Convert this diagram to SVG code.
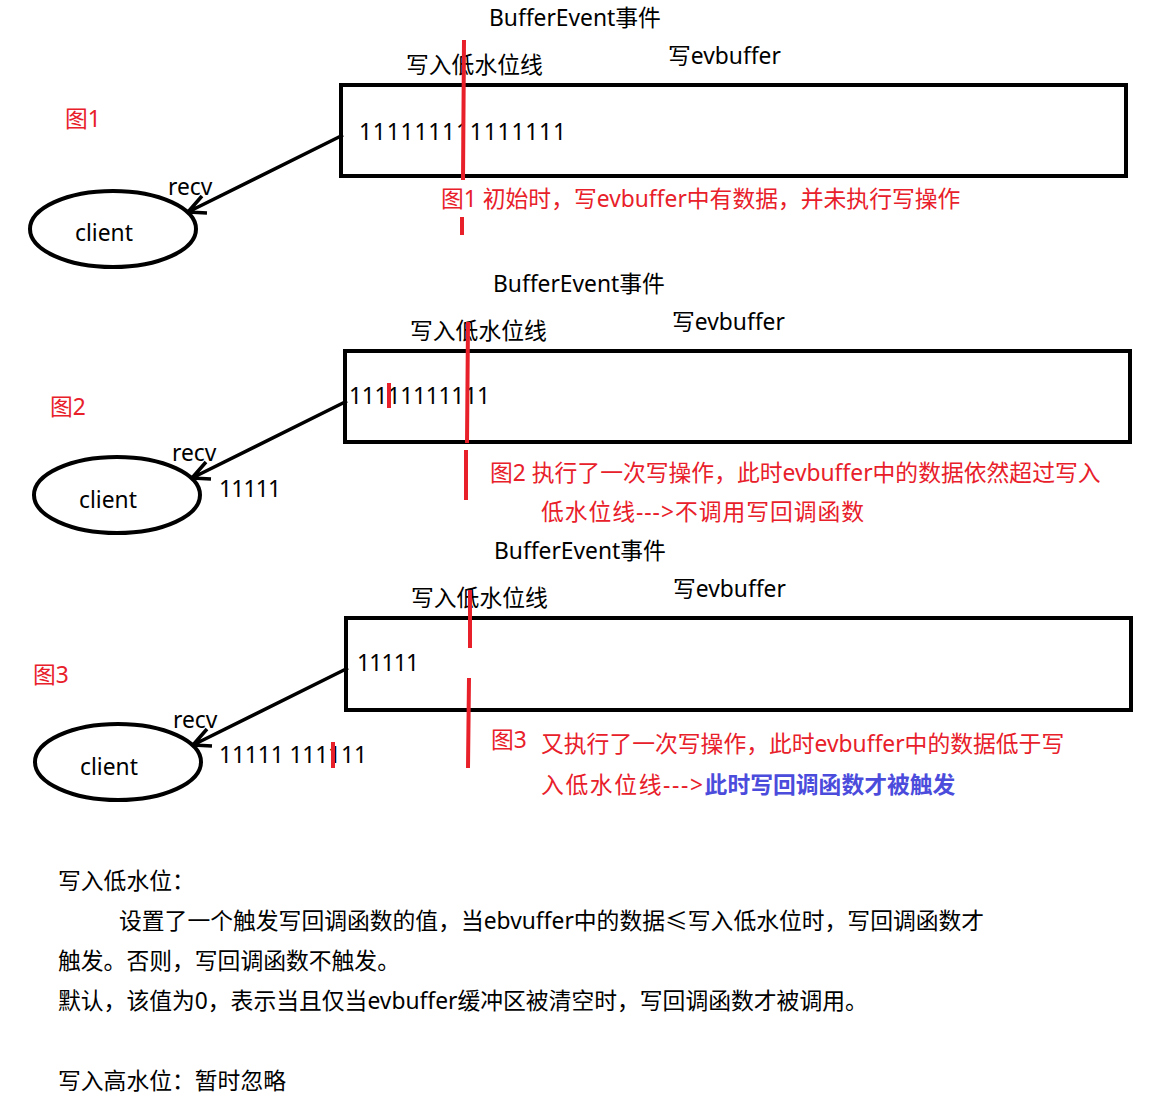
<svg xmlns="http://www.w3.org/2000/svg" width="1150" height="1098" viewBox="0 0 1150 1098">
<style>
text{font-family:"Noto Sans","Noto Sans CJK SC",sans-serif;font-size:22.8px;fill:#000}
.r{fill:#e8202a}
.b{fill:#4b4bdc;font-weight:bold}
.box{fill:none;stroke:#000;stroke-width:4}
.el{fill:none;stroke:#000;stroke-width:4}
.ar{stroke:#000;stroke-width:3.5;fill:none}
.rl{stroke:#e8202a;stroke-width:4;fill:none}
</style>
<rect width="1150" height="1098" fill="#fff"/>
<g id="panel1">
<text x="489" y="26">BufferEvent事件</text>
<text x="406" y="73">写入低水位线</text>
<text x="668" y="64">写evbuffer</text>
<text x="65" y="127" class="r">图1</text>
<rect class="box" x="341" y="85" width="785" height="91"/>
<text x="359" y="140" textLength="207">111111111111111</text>
<ellipse class="el" cx="113" cy="229" rx="83" ry="38"/>
<text x="75" y="241">client</text>
<text x="168" y="195">recv</text>
<text x="441" y="207" class="r">图1 初始时，写evbuffer中有数据，并未执行写操作</text>
</g>
<g id="panel2">
<text x="493" y="292">BufferEvent事件</text>
<text x="410" y="339">写入低水位线</text>
<text x="672" y="330">写evbuffer</text>
<text x="50" y="415" class="r">图2</text>
<rect class="box" x="345" y="351" width="785" height="91"/>
<text x="349" y="404" textLength="141">11111111111</text>
<ellipse class="el" cx="117" cy="495" rx="83" ry="38"/>
<text x="79" y="508">client</text>
<text x="172" y="461">recv</text>
<text x="219" y="497" textLength="62">11111</text>
<text x="490" y="481" class="r">图2  执行了一次写操作，此时evbuffer中的数据依然超过写入</text>
<text x="541" y="520" class="r" textLength="323">低水位线---&gt;不调用写回调函数</text>
</g>
<g id="panel3">
<text x="494" y="559">BufferEvent事件</text>
<text x="411" y="606">写入低水位线</text>
<text x="673" y="597">写evbuffer</text>
<text x="33" y="683" class="r">图3</text>
<rect class="box" x="346" y="618" width="785" height="92"/>
<text x="357" y="671" textLength="62">11111</text>
<ellipse class="el" cx="118" cy="762" rx="83" ry="38"/>
<text x="80" y="775">client</text>
<text x="173" y="728">recv</text>
<text x="219" y="763" textLength="148">11111 111111</text>
<text x="491" y="748" class="r">图3</text>
<text x="541" y="752" class="r">又执行了一次写操作，此时evbuffer中的数据低于写</text>
<text x="541" y="793"><tspan class="r" textLength="162">入低水位线---&gt;</tspan><tspan class="b">此时写回调函数才被触发</tspan></text>
</g>
<g id="connectors">
<path class="ar" d="M343 135 L188 212 M188 212 L202 196 M188 212 L207 213"/>
<path class="ar" d="M347 401 L192 478 M192 478 L206 462 M192 478 L211 479"/>
<path class="ar" d="M348 668 L193 745 M193 745 L207 729 M193 745 L212 746"/>
<path class="rl" d="M464 40 L463 180 M462 217 L462 235"/>
<path class="rl" d="M468 322 L467 443 M466 450 L466 500 M389 383 L389 408"/>
<path class="rl" d="M470 590 L470 648 M469 678 L468 768 M333 742 L333 768"/>
</g>
<g id="notes">
<text x="58" y="889">写入低水位：</text>
<text x="119" y="929">设置了一个触发写回调函数的值，当ebvuffer中的数据≤写入低水位时，写回调函数才</text>
<text x="58" y="969">触发。否则，写回调函数不触发。</text>
<text x="58" y="1009">默认，该值为0，表示当且仅当evbuffer缓冲区被清空时，写回调函数才被调用。</text>
<text x="58" y="1089">写入高水位：暂时忽略</text>
</g>
</svg>
